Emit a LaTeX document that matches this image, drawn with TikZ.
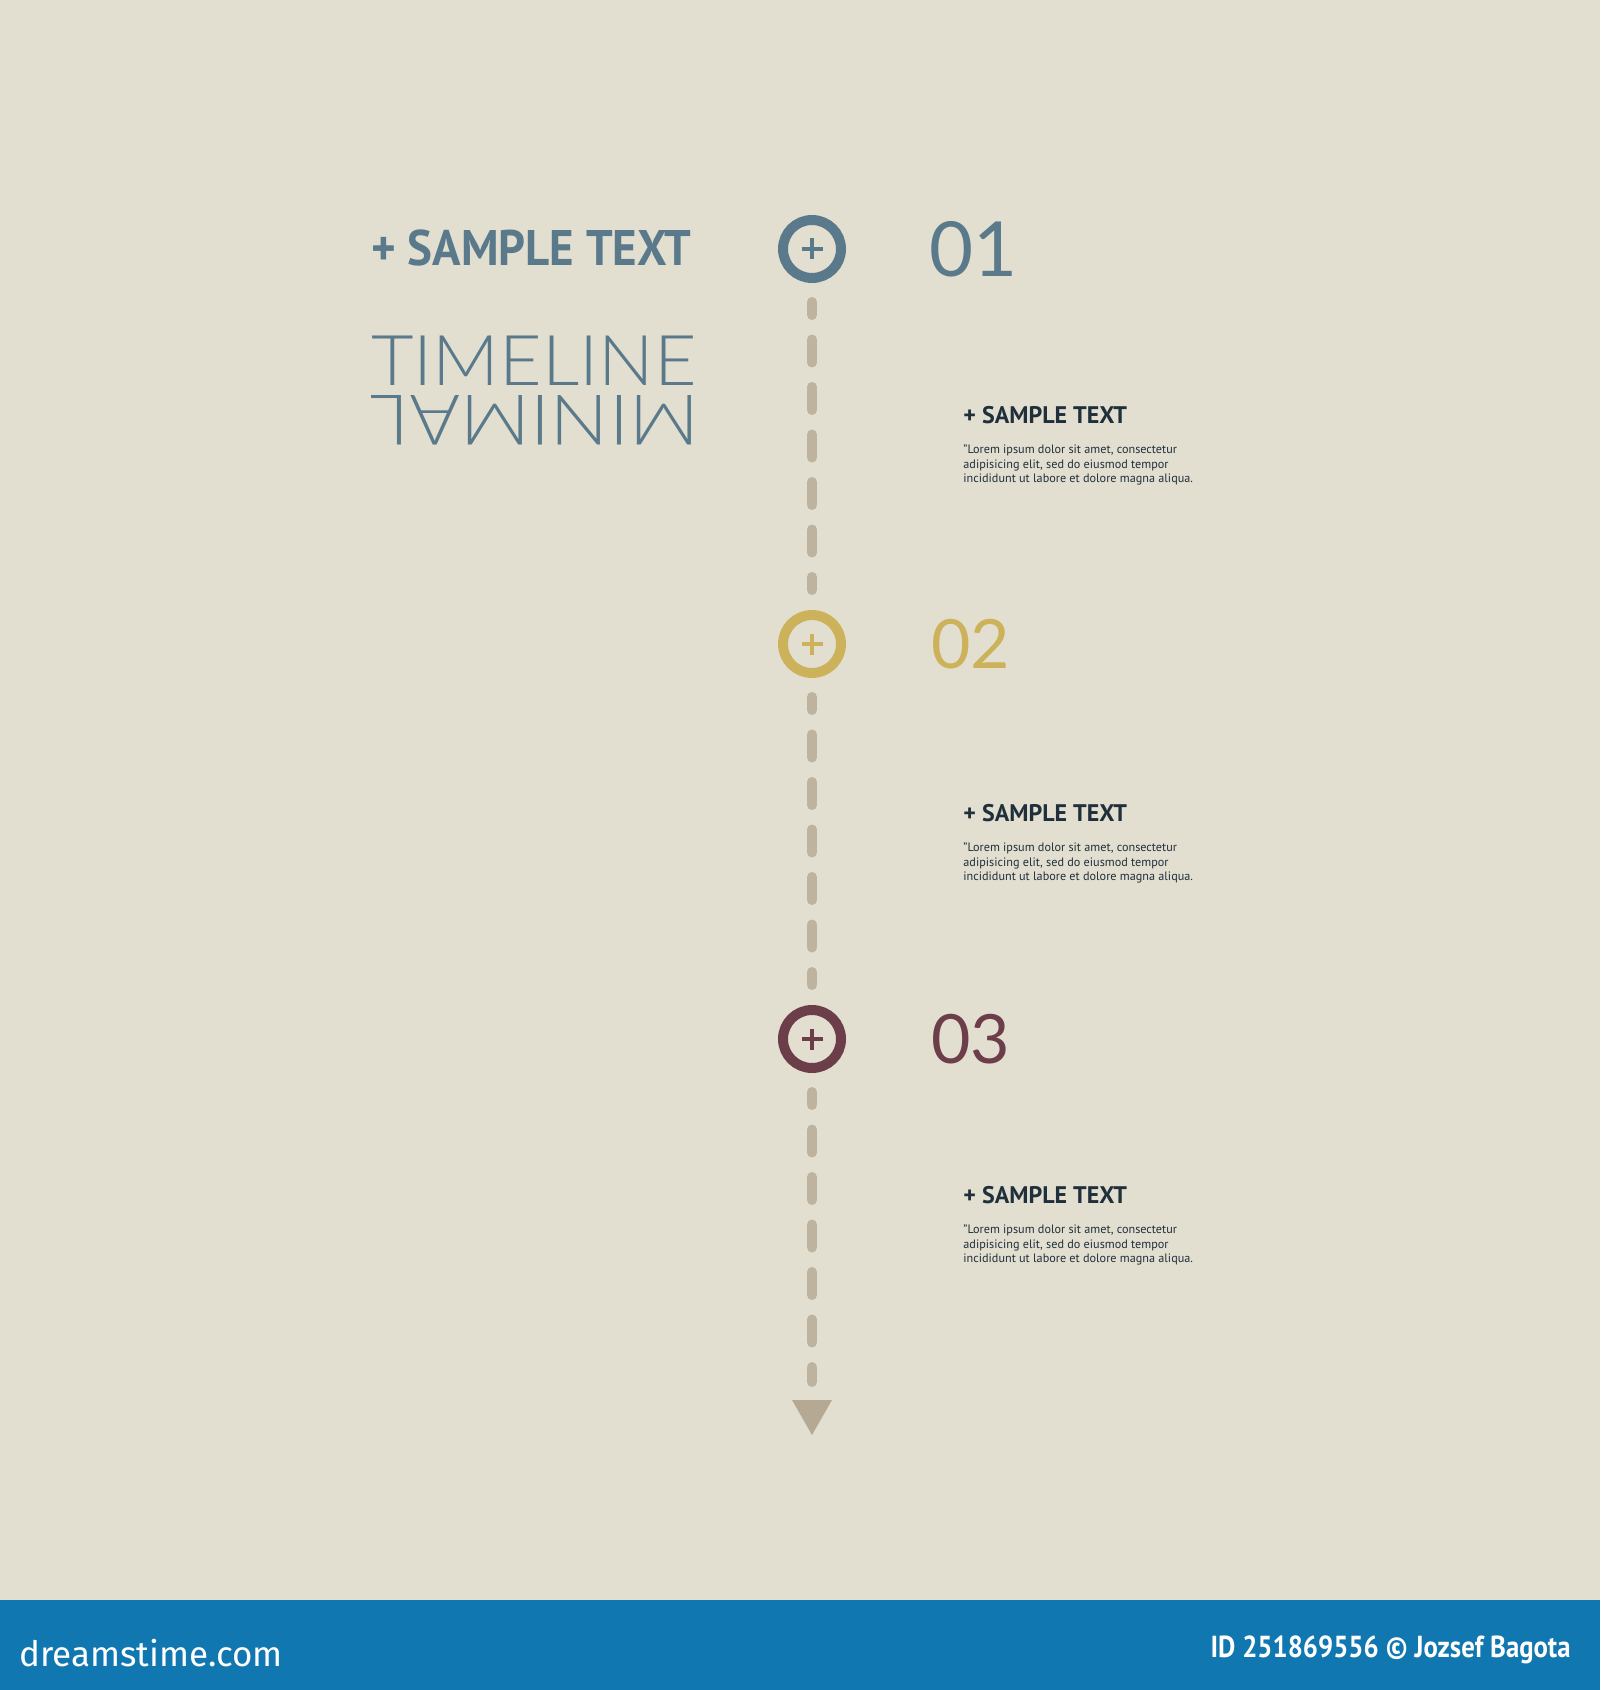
\documentclass[tikz,border=0pt]{standalone}
\usepackage{fontspec}
\setmainfont{PT Sans}
\newfontfamily\numfont{Lato}
\newfontfamily\thinfont{Lato Light}
\newfontfamily\condfont[FakeStretch=0.88]{PT Sans}
\newfontfamily\titlefont[FakeStretch=0.94]{PT Sans}
\newfontfamily\logofont{Fira Sans}
\usetikzlibrary{positioning}
\definecolor{paper}{HTML}{E3DFD0}
\definecolor{slate}{HTML}{5A7A8C}
\definecolor{gold}{HTML}{CDB25C}
\definecolor{maroon}{HTML}{6B3E4A}
\definecolor{trackcol}{HTML}{BDB39E}
\definecolor{tipcol}{HTML}{B5A993}
\definecolor{ink}{HTML}{1F2F3B}
\definecolor{footer}{HTML}{1177B0}
\tikzset{
    %Define style for the rings
    ring/.style={
           circle,
           draw=#1,
           line width=5pt,
           minimum size=29pt,
           inner sep=0pt,
           path picture={
              \draw[#1, line width=2.2pt]
                ([xshift=-5.25pt]path picture bounding box.center) -- ([xshift=5.25pt]path picture bounding box.center)
                ([yshift=-5.25pt]path picture bounding box.center) -- ([yshift=5.25pt]path picture bounding box.center);
           }},
    %Define style for the numbers
    numeral/.style={
           font=\numfont\fontsize{#1}{#1}\selectfont,
           inner sep=0pt},
    heading/.style={
           font=\bfseries\fontsize{12pt}{12pt}\selectfont,
           text=ink,
           inner sep=0pt},
    blurb/.style={
           font=\fontsize{6.1pt}{7.2pt}\selectfont,
           text=ink,
           align=left,
           inner sep=0pt},
    % Define dashed line style
    track/.style={
           draw=trackcol,
           line width=5pt,
           line cap=round,
           dash pattern=on 11.5pt off 12.25pt,
           dash phase=5pt,
           shorten <=9.5pt,
           shorten >=10pt}
}
\begin{document}
\begin{tikzpicture}[x=0.5pt,y=-0.5pt]
\useasboundingbox (0,0) rectangle (1600,1690);
\fill[paper] (0,0) rectangle (1600,1600);
\fill[footer] (0,1600) rectangle (1600,1690);

 %title
\node[inner sep=0pt, anchor=base east, text=slate,
      font=\titlefont\bfseries\fontsize{25pt}{25pt}\selectfont] (title) at (692,266) {+ SAMPLE TEXT};
\node[inner sep=0pt, anchor=base east, text=slate,
      font=\thinfont\fontsize{35pt}{35pt}\selectfont] (tl) at (697,386) {\scalebox{1.05}[1]{TIMELINE}};
\node[inner sep=0pt, anchor=base east, rotate=180, text=slate,
      font=\thinfont\fontsize{35pt}{35pt}\selectfont] (mn) at (370,395) {\scalebox{1.105}[1]{MINIMAL}};

 %rings
\node[ring=slate](c1) at (812,249) {};
\node[ring=gold](c2) at (812,644) {};
\node[ring=maroon](c3) at (812,1039) {};
\coordinate (arr) at (812,1400);

 %numbers
\node[numeral=38pt, text=slate, right=41.5pt of c1](n1){01};
\node[numeral=34pt, text=gold, right=42.5pt of c2](n2){02};
\node[numeral=34pt, text=maroon, right=42.5pt of c3](n3){03};

 %texts
\node[heading, anchor=base west](h1) at (963,423){+ SAMPLE TEXT};
\node[heading, anchor=base west](h2) at (963,821){+ SAMPLE TEXT};
\node[heading, anchor=base west](h3) at (963,1203){+ SAMPLE TEXT};
\foreach \i in {1,2,3}
  \node[blurb, below=10.5pt of h\i.south west, anchor=north west](b\i)
    {"Lorem ipsum dolor sit amet, consectetur\\adipisicing elit, sed do eiusmod tempor\\incididunt ut labore et dolore magna aliqua.};

 %line
\path[track] (c1) -- (c2);
\path[track] (c2) -- (c3);
\path[track, shorten >=9pt] (c3) -- (arr);
\fill[tipcol] ([xshift=-10pt]arr) -- ([xshift=10pt]arr) -- ([yshift=-17.5pt]arr) -- cycle;

 %footer
\node[inner sep=0pt, anchor=base west, text=white,
      font=\logofont\fontsize{17.5pt}{17.5pt}\selectfont] (logo) at (19,1666) {dreamstime.com};
\node[inner sep=0pt, anchor=base east, text=white,
      font=\condfont\bfseries\fontsize{15.2pt}{15.2pt}\selectfont] (id) at (1571,1657) {ID 251869556 © Jozsef Bagota};
\end{tikzpicture}
\end{document}
